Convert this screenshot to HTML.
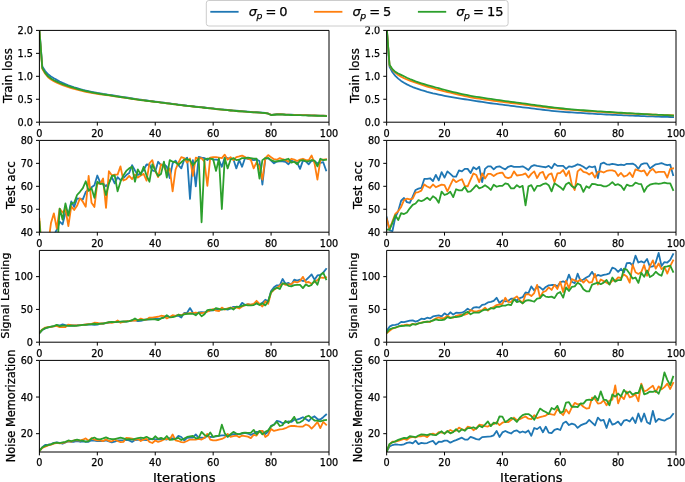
<!DOCTYPE html>
<html><head><meta charset="utf-8"><title>Figure</title>
<style>html,body{margin:0;padding:0;background:#fff}svg{display:block}</style></head>
<body>
<svg width="685" height="482" viewBox="0 0 685 482" font-family="'DejaVu Sans', 'Liberation Sans', sans-serif" stroke-linejoin="round">
<rect width="685" height="482" fill="#fff"/>
<clipPath id="c1"><rect x="39.4" y="30.4" width="289.6" height="91.80"/></clipPath>
<g clip-path="url(#c1)" fill="none" stroke-width="1.8" stroke-linejoin="round" stroke-linecap="square">
<polyline points="39.40,29.39 42.30,66.39 45.19,70.98 48.09,74.33 50.98,76.48 53.88,78.23 56.78,79.88 59.67,81.44 62.57,82.82 65.46,84.10 68.36,85.30 71.26,86.35 74.15,87.36 77.05,88.23 79.94,89.06 82.84,89.84 85.74,90.53 88.63,91.22 91.53,91.81 94.42,92.41 97.32,92.96 100.22,93.42 103.11,93.93 106.01,94.34 108.90,94.80 111.80,95.26 114.70,95.72 117.59,96.17 120.49,96.63 123.38,97.09 126.28,97.51 129.18,97.96 132.07,98.42 134.97,98.88 137.86,99.30 140.76,99.71 143.66,100.12 146.55,100.49 149.45,100.86 152.34,101.22 155.24,101.59 158.14,101.96 161.03,102.33 163.93,102.69 166.82,103.06 169.72,103.43 172.62,103.79 175.51,104.16 178.41,104.57 181.30,104.94 184.20,105.26 187.10,105.63 189.99,105.91 192.89,106.23 195.78,106.55 198.68,106.87 201.58,107.19 204.47,107.51 207.37,107.83 210.26,108.15 213.16,108.48 216.06,108.80 218.95,109.12 221.85,109.39 224.74,109.72 227.64,109.99 230.54,110.27 233.43,110.54 236.33,110.77 239.22,111.00 242.12,111.23 245.02,111.46 247.91,111.69 250.81,111.87 253.70,112.06 256.60,112.24 259.50,112.42 262.39,112.56 265.29,112.79 268.18,113.48 271.08,114.86 273.98,114.58 276.87,114.26 279.77,114.12 282.66,114.31 285.56,114.58 288.46,114.67 291.35,114.76 294.25,114.86 297.14,114.95 300.04,115.04 302.94,115.13 305.83,115.22 308.73,115.31 311.62,115.41 314.52,115.50 317.42,115.59 320.31,115.68 323.21,115.77 326.10,115.87" stroke="#1f77b4"/>
<polyline points="39.40,30.86 42.30,68.82 45.19,73.68 48.09,77.17 50.98,79.42 53.88,81.17 56.78,82.68 59.67,83.97 62.57,85.16 65.46,86.17 68.36,87.18 71.26,88.05 74.15,88.92 77.05,89.70 79.94,90.44 82.84,91.13 85.74,91.77 88.63,92.32 91.53,92.87 94.42,93.37 97.32,93.88 100.22,94.29 103.11,94.71 106.01,95.07 108.90,95.44 111.80,95.85 114.70,96.27 117.59,96.68 120.49,97.09 123.38,97.55 126.28,97.96 129.18,98.38 132.07,98.79 134.97,99.25 137.86,99.66 140.76,100.08 143.66,100.44 146.55,100.81 149.45,101.18 152.34,101.50 155.24,101.87 158.14,102.23 161.03,102.60 163.93,102.97 166.82,103.34 169.72,103.70 172.62,104.07 175.51,104.44 178.41,104.80 181.30,105.17 184.20,105.54 187.10,105.86 189.99,106.18 192.89,106.50 195.78,106.78 198.68,107.10 201.58,107.42 204.47,107.74 207.37,108.06 210.26,108.38 213.16,108.71 216.06,109.03 218.95,109.35 221.85,109.62 224.74,109.94 227.64,110.22 230.54,110.50 233.43,110.72 236.33,111.00 239.22,111.23 242.12,111.46 245.02,111.69 247.91,111.87 250.81,112.10 253.70,112.29 256.60,112.47 259.50,112.61 262.39,112.79 265.29,113.02 268.18,113.52 271.08,114.86 273.98,114.58 276.87,114.31 279.77,114.12 282.66,114.31 285.56,114.58 288.46,114.72 291.35,114.81 294.25,114.86 297.14,114.95 300.04,115.04 302.94,115.13 305.83,115.22 308.73,115.31 311.62,115.41 314.52,115.50 317.42,115.59 320.31,115.68 323.21,115.77 326.10,115.87" stroke="#ff7f0e"/>
<polyline points="39.40,30.86 42.30,68.04 45.19,72.86 48.09,76.30 50.98,78.50 53.88,80.20 56.78,81.67 59.67,83.00 62.57,84.15 65.46,85.20 68.36,86.17 71.26,87.09 74.15,87.96 77.05,88.83 79.94,89.61 82.84,90.35 85.74,91.03 88.63,91.68 91.53,92.27 94.42,92.82 97.32,93.37 100.22,93.88 103.11,94.34 106.01,94.75 108.90,95.16 111.80,95.62 114.70,96.08 117.59,96.54 120.49,97.00 123.38,97.41 126.28,97.87 129.18,98.33 132.07,98.75 134.97,99.20 137.86,99.62 140.76,100.03 143.66,100.40 146.55,100.76 149.45,101.13 152.34,101.50 155.24,101.87 158.14,102.23 161.03,102.60 163.93,102.97 166.82,103.34 169.72,103.70 172.62,104.07 175.51,104.44 178.41,104.80 181.30,105.17 184.20,105.54 187.10,105.86 189.99,106.18 192.89,106.50 195.78,106.78 198.68,107.10 201.58,107.42 204.47,107.74 207.37,108.06 210.26,108.38 213.16,108.71 216.06,109.03 218.95,109.35 221.85,109.62 224.74,109.94 227.64,110.22 230.54,110.50 233.43,110.72 236.33,111.00 239.22,111.23 242.12,111.46 245.02,111.69 247.91,111.87 250.81,112.10 253.70,112.29 256.60,112.47 259.50,112.61 262.39,112.79 265.29,113.02 268.18,113.71 271.08,115.04 273.98,114.76 276.87,114.49 279.77,114.31 282.66,114.49 285.56,114.76 288.46,114.90 291.35,114.99 294.25,115.04 297.14,115.13 300.04,115.22 302.94,115.31 305.83,115.41 308.73,115.50 311.62,115.59 314.52,115.68 317.42,115.77 320.31,115.87 323.21,115.96 326.10,116.05" stroke="#2ca02c"/>
</g>
<line x1="39.40" x2="39.40" y1="122.2" y2="125.60000000000001" stroke="#000" stroke-width="1"/>
<text x="39.40" y="136.60" font-size="9.7" text-anchor="middle" fill="#000" stroke="#000" stroke-width="0.25">0</text>
<line x1="97.32" x2="97.32" y1="122.2" y2="125.60000000000001" stroke="#000" stroke-width="1"/>
<text x="97.32" y="136.60" font-size="9.7" text-anchor="middle" fill="#000" stroke="#000" stroke-width="0.25">20</text>
<line x1="155.24" x2="155.24" y1="122.2" y2="125.60000000000001" stroke="#000" stroke-width="1"/>
<text x="155.24" y="136.60" font-size="9.7" text-anchor="middle" fill="#000" stroke="#000" stroke-width="0.25">40</text>
<line x1="213.16" x2="213.16" y1="122.2" y2="125.60000000000001" stroke="#000" stroke-width="1"/>
<text x="213.16" y="136.60" font-size="9.7" text-anchor="middle" fill="#000" stroke="#000" stroke-width="0.25">60</text>
<line x1="271.08" x2="271.08" y1="122.2" y2="125.60000000000001" stroke="#000" stroke-width="1"/>
<text x="271.08" y="136.60" font-size="9.7" text-anchor="middle" fill="#000" stroke="#000" stroke-width="0.25">80</text>
<line x1="329.00" x2="329.00" y1="122.2" y2="125.60000000000001" stroke="#000" stroke-width="1"/>
<text x="329.00" y="136.60" font-size="9.7" text-anchor="middle" fill="#000" stroke="#000" stroke-width="0.25">100</text>
<line x1="36.0" x2="39.4" y1="122.20" y2="122.20" stroke="#000" stroke-width="1"/>
<text x="33.00" y="125.80" font-size="9.7" text-anchor="end" fill="#000" stroke="#000" stroke-width="0.25">0.0</text>
<line x1="36.0" x2="39.4" y1="99.25" y2="99.25" stroke="#000" stroke-width="1"/>
<text x="33.00" y="102.85" font-size="9.7" text-anchor="end" fill="#000" stroke="#000" stroke-width="0.25">0.5</text>
<line x1="36.0" x2="39.4" y1="76.30" y2="76.30" stroke="#000" stroke-width="1"/>
<text x="33.00" y="79.90" font-size="9.7" text-anchor="end" fill="#000" stroke="#000" stroke-width="0.25">1.0</text>
<line x1="36.0" x2="39.4" y1="53.35" y2="53.35" stroke="#000" stroke-width="1"/>
<text x="33.00" y="56.95" font-size="9.7" text-anchor="end" fill="#000" stroke="#000" stroke-width="0.25">1.5</text>
<line x1="36.0" x2="39.4" y1="30.40" y2="30.40" stroke="#000" stroke-width="1"/>
<text x="33.00" y="34.00" font-size="9.7" text-anchor="end" fill="#000" stroke="#000" stroke-width="0.25">2.0</text>
<rect x="39.4" y="30.4" width="289.6" height="91.80" fill="none" stroke="#000" stroke-width="1"/>
<text transform="translate(12.10,75.60) rotate(-90)" font-size="11.8" text-anchor="middle" fill="#000" stroke="#000" stroke-width="0.25">Train loss</text>
<clipPath id="c2"><rect x="39.4" y="140.4" width="289.6" height="91.80"/></clipPath>
<g clip-path="url(#c2)" fill="none" stroke-width="1.8" stroke-linejoin="round" stroke-linecap="square">
<polyline points="39.40,255.15 42.30,250.56 45.19,245.97 48.09,241.38 50.98,239.08 53.88,235.18 56.78,229.68 59.67,221.64 62.57,224.40 65.46,212.69 68.36,214.99 71.26,201.45 74.15,206.95 77.05,198.46 79.94,198.92 82.84,199.38 85.74,192.04 88.63,189.51 91.53,187.22 94.42,185.15 97.32,175.51 100.22,182.63 103.11,183.32 106.01,186.30 108.90,182.63 111.80,177.12 114.70,183.32 117.59,177.12 120.49,180.10 123.38,178.04 126.28,175.05 129.18,172.99 132.07,165.19 134.97,170.46 137.86,175.05 140.76,172.99 143.66,170.01 146.55,164.50 149.45,164.73 152.34,170.46 155.24,171.38 158.14,161.74 161.03,165.19 163.93,164.27 166.82,166.79 169.72,178.04 172.62,163.35 175.51,160.60 178.41,165.19 181.30,168.40 184.20,159.68 187.10,157.61 189.99,198.92 192.89,160.14 195.78,186.30 198.68,156.92 201.58,157.61 204.47,158.07 207.37,160.14 210.26,158.07 213.16,159.68 216.06,159.68 218.95,160.14 221.85,166.79 224.74,157.61 227.64,158.07 230.54,158.76 233.43,159.22 236.33,168.40 239.22,160.14 242.12,166.79 245.02,158.07 247.91,158.76 250.81,159.68 253.70,160.14 256.60,159.68 259.50,161.06 262.39,184.69 265.29,158.99 268.18,158.07 271.08,160.60 273.98,163.35 276.87,161.51 279.77,161.28 282.66,161.28 285.56,161.74 288.46,164.27 291.35,160.60 294.25,161.74 297.14,162.66 300.04,168.86 302.94,160.60 305.83,161.28 308.73,164.27 311.62,160.60 314.52,161.28 317.42,163.35 320.31,162.89 323.21,162.20 326.10,170.46" stroke="#1f77b4"/>
<polyline points="39.40,218.66 42.30,255.15 45.19,250.56 48.09,244.82 50.98,223.02 53.88,213.38 56.78,228.53 59.67,208.56 62.57,212.46 65.46,209.02 68.36,226.00 71.26,206.50 74.15,209.94 77.05,205.81 79.94,198.23 82.84,201.68 85.74,206.73 88.63,175.97 91.53,202.82 94.42,206.95 97.32,182.86 100.22,184.00 103.11,178.50 106.01,207.87 108.90,171.15 111.80,175.28 114.70,174.60 117.59,174.60 120.49,166.33 123.38,180.56 126.28,179.19 129.18,175.97 132.07,179.19 134.97,174.60 137.86,177.58 140.76,175.51 143.66,173.91 146.55,180.56 149.45,163.35 152.34,160.14 155.24,170.92 158.14,177.12 161.03,164.27 163.93,166.79 166.82,172.07 169.72,168.40 172.62,191.35 175.51,169.78 178.41,162.66 181.30,157.15 184.20,158.07 187.10,162.66 189.99,158.53 192.89,175.97 195.78,157.61 198.68,158.53 201.58,158.07 204.47,161.74 207.37,185.84 210.26,157.61 213.16,157.15 216.06,157.15 218.95,157.61 221.85,158.07 224.74,154.63 227.64,159.68 230.54,157.15 233.43,160.14 236.33,157.15 239.22,156.47 242.12,155.55 245.02,157.15 247.91,158.76 250.81,159.68 253.70,168.40 256.60,162.20 259.50,166.79 262.39,179.64 265.29,158.07 268.18,155.09 271.08,157.15 273.98,159.22 276.87,159.68 279.77,158.07 282.66,159.22 285.56,160.14 288.46,161.74 291.35,158.76 294.25,159.68 297.14,161.06 300.04,159.68 302.94,158.76 305.83,160.14 308.73,160.14 311.62,155.55 314.52,163.35 317.42,179.64 320.31,160.14 323.21,159.68 326.10,159.22" stroke="#ff7f0e"/>
<polyline points="39.40,221.64 42.30,259.74 45.19,262.03 48.09,262.03 50.98,259.74 53.88,259.74 56.78,256.76 59.67,208.56 62.57,219.58 65.46,203.51 68.36,215.68 71.26,203.05 74.15,202.82 77.05,195.02 79.94,191.81 82.84,188.14 85.74,181.25 88.63,190.89 91.53,188.14 94.42,197.77 97.32,181.71 100.22,183.78 103.11,183.78 106.01,195.02 108.90,183.78 111.80,175.97 114.70,175.51 117.59,191.35 120.49,181.71 123.38,175.51 126.28,170.92 129.18,168.40 132.07,166.79 134.97,181.71 137.86,169.32 140.76,174.60 143.66,166.79 146.55,175.51 149.45,181.71 152.34,164.27 155.24,170.46 158.14,175.97 161.03,173.91 163.93,161.74 166.82,177.58 169.72,160.14 172.62,161.74 175.51,162.20 178.41,164.73 181.30,162.20 184.20,159.68 187.10,159.22 189.99,160.14 192.89,165.19 195.78,161.74 198.68,158.53 201.58,222.33 204.47,159.68 207.37,158.53 210.26,158.53 213.16,159.22 216.06,170.92 218.95,158.53 221.85,209.02 224.74,158.07 227.64,168.40 230.54,159.68 233.43,158.07 236.33,160.14 239.22,159.68 242.12,158.07 245.02,158.07 247.91,157.61 250.81,158.07 253.70,158.53 256.60,158.53 259.50,178.50 262.39,160.14 265.29,158.07 268.18,158.07 271.08,160.14 273.98,161.28 276.87,161.28 279.77,160.60 282.66,160.14 285.56,159.68 288.46,158.76 291.35,162.66 294.25,161.74 297.14,164.27 300.04,160.60 302.94,160.14 305.83,161.28 308.73,161.28 311.62,160.14 314.52,160.60 317.42,166.33 320.31,158.76 323.21,160.14 326.10,159.68" stroke="#2ca02c"/>
</g>
<line x1="39.40" x2="39.40" y1="232.2" y2="235.6" stroke="#000" stroke-width="1"/>
<text x="39.40" y="246.60" font-size="9.7" text-anchor="middle" fill="#000" stroke="#000" stroke-width="0.25">0</text>
<line x1="97.32" x2="97.32" y1="232.2" y2="235.6" stroke="#000" stroke-width="1"/>
<text x="97.32" y="246.60" font-size="9.7" text-anchor="middle" fill="#000" stroke="#000" stroke-width="0.25">20</text>
<line x1="155.24" x2="155.24" y1="232.2" y2="235.6" stroke="#000" stroke-width="1"/>
<text x="155.24" y="246.60" font-size="9.7" text-anchor="middle" fill="#000" stroke="#000" stroke-width="0.25">40</text>
<line x1="213.16" x2="213.16" y1="232.2" y2="235.6" stroke="#000" stroke-width="1"/>
<text x="213.16" y="246.60" font-size="9.7" text-anchor="middle" fill="#000" stroke="#000" stroke-width="0.25">60</text>
<line x1="271.08" x2="271.08" y1="232.2" y2="235.6" stroke="#000" stroke-width="1"/>
<text x="271.08" y="246.60" font-size="9.7" text-anchor="middle" fill="#000" stroke="#000" stroke-width="0.25">80</text>
<line x1="329.00" x2="329.00" y1="232.2" y2="235.6" stroke="#000" stroke-width="1"/>
<text x="329.00" y="246.60" font-size="9.7" text-anchor="middle" fill="#000" stroke="#000" stroke-width="0.25">100</text>
<line x1="36.0" x2="39.4" y1="232.20" y2="232.20" stroke="#000" stroke-width="1"/>
<text x="33.00" y="235.80" font-size="9.7" text-anchor="end" fill="#000" stroke="#000" stroke-width="0.25">40</text>
<line x1="36.0" x2="39.4" y1="209.25" y2="209.25" stroke="#000" stroke-width="1"/>
<text x="33.00" y="212.85" font-size="9.7" text-anchor="end" fill="#000" stroke="#000" stroke-width="0.25">50</text>
<line x1="36.0" x2="39.4" y1="186.30" y2="186.30" stroke="#000" stroke-width="1"/>
<text x="33.00" y="189.90" font-size="9.7" text-anchor="end" fill="#000" stroke="#000" stroke-width="0.25">60</text>
<line x1="36.0" x2="39.4" y1="163.35" y2="163.35" stroke="#000" stroke-width="1"/>
<text x="33.00" y="166.95" font-size="9.7" text-anchor="end" fill="#000" stroke="#000" stroke-width="0.25">70</text>
<line x1="36.0" x2="39.4" y1="140.40" y2="140.40" stroke="#000" stroke-width="1"/>
<text x="33.00" y="144.00" font-size="9.7" text-anchor="end" fill="#000" stroke="#000" stroke-width="0.25">80</text>
<rect x="39.4" y="140.4" width="289.6" height="91.80" fill="none" stroke="#000" stroke-width="1"/>
<text transform="translate(15.10,185.10) rotate(-90)" font-size="11.9" text-anchor="middle" fill="#000" stroke="#000" stroke-width="0.25">Test acc</text>
<clipPath id="c3"><rect x="39.4" y="250.4" width="289.6" height="91.80"/></clipPath>
<g clip-path="url(#c3)" fill="none" stroke-width="1.8" stroke-linejoin="round" stroke-linecap="square">
<polyline points="39.40,333.35 42.30,330.07 45.19,328.43 48.09,327.45 50.98,326.79 53.88,326.13 56.78,325.48 59.67,325.48 62.57,324.36 65.46,325.15 68.36,325.48 71.26,325.48 74.15,325.48 77.05,325.48 79.94,325.15 82.84,324.89 85.74,324.63 88.63,324.50 91.53,324.50 94.42,324.76 97.32,324.50 100.22,323.84 103.11,323.51 106.01,323.18 108.90,322.53 111.80,322.20 114.70,322.00 117.59,321.87 120.49,321.87 123.38,321.68 126.28,321.55 129.18,321.22 132.07,320.56 134.97,320.23 137.86,321.22 140.76,320.89 143.66,320.04 146.55,319.58 149.45,319.25 152.34,319.12 155.24,318.92 158.14,318.86 161.03,318.27 163.93,317.28 166.82,316.10 169.72,316.95 172.62,316.63 175.51,315.97 178.41,315.77 181.30,317.61 184.20,312.89 187.10,312.69 189.99,308.10 192.89,312.69 195.78,313.22 198.68,312.50 201.58,312.17 204.47,312.50 207.37,311.18 210.26,310.66 213.16,310.46 216.06,309.61 218.95,310.14 221.85,309.09 224.74,308.82 227.64,309.61 230.54,308.63 233.43,306.79 236.33,306.92 239.22,306.92 242.12,302.86 245.02,304.89 247.91,304.37 250.81,304.89 253.70,304.37 256.60,302.86 259.50,304.37 262.39,302.86 265.29,299.78 268.18,301.28 271.08,291.05 273.98,287.32 276.87,285.35 279.77,285.35 282.66,278.99 285.56,283.84 288.46,282.92 291.35,284.76 294.25,279.71 297.14,280.56 300.04,279.64 302.94,281.02 305.83,280.10 308.73,277.28 311.62,274.46 314.52,279.64 317.42,275.45 320.31,274.99 323.21,272.63 326.10,268.89" stroke="#1f77b4"/>
<polyline points="39.40,333.02 42.30,329.41 45.19,327.64 48.09,327.12 50.98,326.79 53.88,326.46 56.78,325.81 59.67,327.12 62.57,327.12 65.46,326.99 68.36,324.56 71.26,325.15 74.15,325.48 77.05,325.28 79.94,325.15 82.84,324.82 85.74,324.50 88.63,324.17 91.53,323.84 94.42,322.73 97.32,322.86 100.22,323.51 103.11,323.51 106.01,322.86 108.90,322.40 111.80,322.92 114.70,322.20 117.59,320.50 120.49,322.73 123.38,321.87 126.28,321.22 129.18,321.22 132.07,320.56 134.97,320.69 137.86,320.23 140.76,318.66 143.66,319.64 146.55,319.64 149.45,317.61 152.34,317.61 155.24,317.09 158.14,316.76 161.03,315.77 163.93,316.04 166.82,318.46 169.72,316.95 172.62,315.25 175.51,315.77 178.41,314.73 181.30,315.25 184.20,313.74 187.10,313.55 189.99,313.22 192.89,313.22 195.78,312.50 198.68,313.22 201.58,313.22 204.47,312.69 207.37,311.71 210.26,310.14 213.16,309.09 216.06,310.66 218.95,311.18 221.85,307.58 224.74,309.61 227.64,308.30 230.54,307.51 233.43,308.30 236.33,307.45 239.22,308.50 242.12,306.46 245.02,305.41 247.91,304.10 250.81,304.69 253.70,303.84 256.60,300.82 259.50,303.84 262.39,306.46 265.29,301.28 268.18,303.84 271.08,292.56 273.98,289.74 276.87,288.04 279.77,285.61 282.66,283.38 285.56,284.82 288.46,284.37 291.35,284.17 294.25,281.68 297.14,282.46 300.04,281.02 302.94,276.83 305.83,282.46 308.73,282.01 311.62,283.84 314.52,282.01 317.42,280.10 320.31,277.28 323.21,277.81 326.10,277.28" stroke="#ff7f0e"/>
<polyline points="39.40,332.95 42.30,329.68 45.19,328.17 48.09,327.32 50.98,326.59 53.88,326.13 56.78,324.89 59.67,326.13 62.57,325.61 65.46,325.61 68.36,325.81 71.26,325.61 74.15,325.81 77.05,325.61 79.94,325.28 82.84,324.89 85.74,324.89 88.63,324.36 91.53,324.04 94.42,323.77 97.32,324.04 100.22,323.71 103.11,323.64 106.01,322.86 108.90,322.20 111.80,322.00 114.70,322.20 117.59,321.94 120.49,321.68 123.38,321.48 126.28,321.68 129.18,321.02 132.07,320.17 134.97,318.40 137.86,320.17 140.76,319.84 143.66,319.84 146.55,319.45 149.45,319.32 152.34,319.32 155.24,319.32 158.14,320.17 161.03,318.40 163.93,317.61 166.82,315.12 169.72,317.35 172.62,317.02 175.51,316.30 178.41,314.73 181.30,315.58 184.20,314.27 187.10,313.74 189.99,313.55 192.89,313.74 195.78,315.25 198.68,312.69 201.58,316.30 204.47,314.27 207.37,310.14 210.26,309.61 213.16,310.14 216.06,308.10 218.95,308.82 221.85,309.61 224.74,309.09 227.64,309.09 230.54,307.77 233.43,309.55 236.33,306.73 239.22,306.92 242.12,305.94 245.02,304.89 247.91,305.41 250.81,305.41 253.70,305.09 256.60,303.38 259.50,305.09 262.39,303.38 265.29,305.41 268.18,301.28 271.08,292.10 273.98,289.22 276.87,287.58 279.77,289.02 282.66,283.38 285.56,283.64 288.46,285.81 291.35,286.33 294.25,285.15 297.14,284.82 300.04,284.82 302.94,288.10 305.83,284.37 308.73,286.20 311.62,284.82 314.52,280.56 317.42,284.82 320.31,275.45 323.21,272.63 326.10,279.19" stroke="#2ca02c"/>
</g>
<line x1="39.40" x2="39.40" y1="342.2" y2="345.59999999999997" stroke="#000" stroke-width="1"/>
<text x="39.40" y="356.60" font-size="9.7" text-anchor="middle" fill="#000" stroke="#000" stroke-width="0.25">0</text>
<line x1="97.32" x2="97.32" y1="342.2" y2="345.59999999999997" stroke="#000" stroke-width="1"/>
<text x="97.32" y="356.60" font-size="9.7" text-anchor="middle" fill="#000" stroke="#000" stroke-width="0.25">20</text>
<line x1="155.24" x2="155.24" y1="342.2" y2="345.59999999999997" stroke="#000" stroke-width="1"/>
<text x="155.24" y="356.60" font-size="9.7" text-anchor="middle" fill="#000" stroke="#000" stroke-width="0.25">40</text>
<line x1="213.16" x2="213.16" y1="342.2" y2="345.59999999999997" stroke="#000" stroke-width="1"/>
<text x="213.16" y="356.60" font-size="9.7" text-anchor="middle" fill="#000" stroke="#000" stroke-width="0.25">60</text>
<line x1="271.08" x2="271.08" y1="342.2" y2="345.59999999999997" stroke="#000" stroke-width="1"/>
<text x="271.08" y="356.60" font-size="9.7" text-anchor="middle" fill="#000" stroke="#000" stroke-width="0.25">80</text>
<line x1="329.00" x2="329.00" y1="342.2" y2="345.59999999999997" stroke="#000" stroke-width="1"/>
<text x="329.00" y="356.60" font-size="9.7" text-anchor="middle" fill="#000" stroke="#000" stroke-width="0.25">100</text>
<line x1="36.0" x2="39.4" y1="342.20" y2="342.20" stroke="#000" stroke-width="1"/>
<text x="33.00" y="345.80" font-size="9.7" text-anchor="end" fill="#000" stroke="#000" stroke-width="0.25">0</text>
<line x1="36.0" x2="39.4" y1="309.41" y2="309.41" stroke="#000" stroke-width="1"/>
<text x="33.00" y="313.01" font-size="9.7" text-anchor="end" fill="#000" stroke="#000" stroke-width="0.25">50</text>
<line x1="36.0" x2="39.4" y1="276.63" y2="276.63" stroke="#000" stroke-width="1"/>
<text x="33.00" y="280.23" font-size="9.7" text-anchor="end" fill="#000" stroke="#000" stroke-width="0.25">100</text>
<rect x="39.4" y="250.4" width="289.6" height="91.80" fill="none" stroke="#000" stroke-width="1"/>
<text transform="translate(9.40,295.60) rotate(-90)" font-size="11.15" text-anchor="middle" fill="#000" stroke="#000" stroke-width="0.25">Signal Learning</text>
<clipPath id="c4"><rect x="39.4" y="360.4" width="289.6" height="91.60"/></clipPath>
<g clip-path="url(#c4)" fill="none" stroke-width="1.8" stroke-linejoin="round" stroke-linecap="square">
<polyline points="39.40,451.08 42.30,447.24 45.19,444.86 48.09,444.67 50.98,444.12 53.88,442.84 56.78,442.47 59.67,442.84 62.57,443.76 65.46,442.47 68.36,441.37 71.26,441.92 74.15,441.74 77.05,441.01 79.94,441.74 82.84,441.37 85.74,441.74 88.63,441.74 91.53,440.28 94.42,440.64 97.32,441.19 100.22,441.01 103.11,441.01 106.01,440.46 108.90,441.37 111.80,442.47 114.70,441.74 117.59,440.46 120.49,440.46 123.38,440.46 126.28,439.91 129.18,440.46 132.07,441.92 134.97,440.09 137.86,439.91 140.76,439.36 143.66,439.91 146.55,440.09 149.45,439.36 152.34,438.81 155.24,439.18 158.14,439.36 161.03,439.36 163.93,438.81 166.82,439.54 169.72,438.08 172.62,438.44 175.51,438.99 178.41,435.88 181.30,436.98 184.20,440.46 187.10,437.89 189.99,437.53 192.89,437.53 195.78,434.41 198.68,437.89 201.58,437.53 204.47,437.89 207.37,435.88 210.26,436.98 213.16,436.79 216.06,436.43 218.95,435.88 221.85,435.33 224.74,435.33 227.64,436.61 230.54,435.15 233.43,434.05 236.33,434.05 239.22,434.05 242.12,433.50 245.02,432.95 247.91,433.50 250.81,434.96 253.70,433.50 256.60,431.85 259.50,431.85 262.39,430.93 265.29,434.05 268.18,431.85 271.08,425.80 273.98,424.70 276.87,420.86 279.77,421.59 282.66,423.24 285.56,422.50 288.46,421.41 291.35,421.96 294.25,419.76 297.14,419.57 300.04,418.66 302.94,417.19 305.83,419.02 308.73,421.04 311.62,417.74 314.52,416.28 317.42,419.02 320.31,419.57 323.21,417.19 326.10,414.63" stroke="#1f77b4"/>
<polyline points="39.40,451.08 42.30,447.79 45.19,446.69 48.09,445.40 50.98,444.67 53.88,443.57 56.78,442.84 59.67,443.39 62.57,442.84 65.46,442.29 68.36,441.01 71.26,441.74 74.15,440.28 77.05,440.09 79.94,440.64 82.84,439.73 85.74,438.44 88.63,440.64 91.53,438.08 94.42,439.73 97.32,440.28 100.22,440.46 103.11,441.01 106.01,439.36 108.90,441.01 111.80,441.37 114.70,439.36 117.59,441.01 120.49,442.11 123.38,441.92 126.28,437.89 129.18,438.08 132.07,438.63 134.97,439.91 137.86,438.81 140.76,441.01 143.66,439.36 146.55,438.81 149.45,441.92 152.34,443.02 155.24,440.46 158.14,441.92 161.03,441.01 163.93,439.36 166.82,438.99 169.72,439.54 172.62,434.41 175.51,440.46 178.41,441.01 181.30,442.11 184.20,442.29 187.10,441.01 189.99,439.54 192.89,439.54 195.78,439.54 198.68,438.99 201.58,439.54 204.47,437.89 207.37,433.86 210.26,439.54 213.16,440.46 216.06,440.46 218.95,439.54 221.85,438.99 224.74,437.53 227.64,433.86 230.54,436.79 233.43,436.06 236.33,435.51 239.22,437.34 242.12,435.51 245.02,436.06 247.91,436.61 250.81,438.08 253.70,434.96 256.60,435.51 259.50,430.93 262.39,430.93 265.29,436.98 268.18,434.96 271.08,428.92 273.98,430.93 276.87,430.20 279.77,429.28 282.66,429.10 285.56,428.18 288.46,426.72 291.35,425.80 294.25,425.99 297.14,426.35 300.04,426.54 302.94,426.54 305.83,424.52 308.73,425.62 311.62,428.55 314.52,425.62 317.42,421.96 320.31,428.18 323.21,421.96 326.10,424.70" stroke="#ff7f0e"/>
<polyline points="39.40,450.90 42.30,447.42 45.19,445.77 48.09,445.04 50.98,444.31 53.88,443.21 56.78,442.66 59.67,443.21 62.57,442.29 65.46,441.92 68.36,440.46 71.26,441.01 74.15,440.46 77.05,439.73 79.94,440.46 82.84,440.64 85.74,441.74 88.63,441.19 91.53,438.63 94.42,437.53 97.32,439.18 100.22,439.36 103.11,438.44 106.01,437.34 108.90,438.63 111.80,439.18 114.70,439.18 117.59,438.44 120.49,437.71 123.38,438.44 126.28,439.36 129.18,439.18 132.07,439.73 134.97,438.81 137.86,438.08 140.76,437.71 143.66,438.08 146.55,436.79 149.45,438.44 152.34,439.36 155.24,436.24 158.14,438.81 161.03,437.89 163.93,439.18 166.82,436.06 169.72,439.73 172.62,439.54 175.51,438.99 178.41,437.89 181.30,440.09 184.20,438.44 187.10,436.98 189.99,436.43 192.89,435.88 195.78,438.44 198.68,437.89 201.58,431.85 204.47,434.96 207.37,436.43 210.26,432.40 213.16,436.98 216.06,435.88 218.95,435.88 221.85,424.70 224.74,433.31 227.64,436.79 230.54,434.23 233.43,431.85 236.33,433.50 239.22,434.41 242.12,432.95 245.02,432.76 247.91,432.95 250.81,432.95 253.70,429.83 256.60,434.41 259.50,430.93 262.39,434.41 265.29,431.85 268.18,430.38 271.08,426.35 273.98,424.70 276.87,421.77 279.77,425.99 282.66,425.07 285.56,420.86 288.46,423.05 291.35,420.67 294.25,416.83 297.14,422.87 300.04,422.32 302.94,420.49 305.83,416.83 308.73,415.73 311.62,418.11 314.52,420.49 317.42,420.67 320.31,421.41 323.21,420.49 326.10,419.94" stroke="#2ca02c"/>
</g>
<line x1="39.40" x2="39.40" y1="452.0" y2="455.4" stroke="#000" stroke-width="1"/>
<text x="39.40" y="466.40" font-size="9.7" text-anchor="middle" fill="#000" stroke="#000" stroke-width="0.25">0</text>
<line x1="97.32" x2="97.32" y1="452.0" y2="455.4" stroke="#000" stroke-width="1"/>
<text x="97.32" y="466.40" font-size="9.7" text-anchor="middle" fill="#000" stroke="#000" stroke-width="0.25">20</text>
<line x1="155.24" x2="155.24" y1="452.0" y2="455.4" stroke="#000" stroke-width="1"/>
<text x="155.24" y="466.40" font-size="9.7" text-anchor="middle" fill="#000" stroke="#000" stroke-width="0.25">40</text>
<line x1="213.16" x2="213.16" y1="452.0" y2="455.4" stroke="#000" stroke-width="1"/>
<text x="213.16" y="466.40" font-size="9.7" text-anchor="middle" fill="#000" stroke="#000" stroke-width="0.25">60</text>
<line x1="271.08" x2="271.08" y1="452.0" y2="455.4" stroke="#000" stroke-width="1"/>
<text x="271.08" y="466.40" font-size="9.7" text-anchor="middle" fill="#000" stroke="#000" stroke-width="0.25">80</text>
<line x1="329.00" x2="329.00" y1="452.0" y2="455.4" stroke="#000" stroke-width="1"/>
<text x="329.00" y="466.40" font-size="9.7" text-anchor="middle" fill="#000" stroke="#000" stroke-width="0.25">100</text>
<line x1="36.0" x2="39.4" y1="433.68" y2="433.68" stroke="#000" stroke-width="1"/>
<text x="33.00" y="437.28" font-size="9.7" text-anchor="end" fill="#000" stroke="#000" stroke-width="0.25">20</text>
<line x1="36.0" x2="39.4" y1="397.04" y2="397.04" stroke="#000" stroke-width="1"/>
<text x="33.00" y="400.64" font-size="9.7" text-anchor="end" fill="#000" stroke="#000" stroke-width="0.25">40</text>
<line x1="36.0" x2="39.4" y1="360.40" y2="360.40" stroke="#000" stroke-width="1"/>
<text x="33.00" y="364.00" font-size="9.7" text-anchor="end" fill="#000" stroke="#000" stroke-width="0.25">60</text>
<rect x="39.4" y="360.4" width="289.6" height="91.60" fill="none" stroke="#000" stroke-width="1"/>
<text transform="translate(14.50,405.90) rotate(-90)" font-size="11.4" text-anchor="middle" fill="#000" stroke="#000" stroke-width="0.25">Noise Memorization</text>
<text x="184.20" y="481.8" font-size="13.15" text-anchor="middle" fill="#000" stroke="#000" stroke-width="0.25">Iterations</text>
<clipPath id="c5"><rect x="386.65" y="30.4" width="289.35" height="91.80"/></clipPath>
<g clip-path="url(#c5)" fill="none" stroke-width="1.8" stroke-linejoin="round" stroke-linecap="square">
<polyline points="386.65,26.73 389.54,66.84 392.44,72.21 395.33,75.84 398.22,78.64 401.12,80.89 404.01,82.77 406.90,84.38 409.80,85.80 412.69,87.04 415.58,88.19 418.48,89.20 421.37,90.16 424.27,90.99 427.16,91.81 430.05,92.55 432.95,93.28 435.84,93.93 438.73,94.57 441.63,95.16 444.52,95.76 447.41,96.31 450.31,96.86 453.20,97.37 456.09,97.87 458.99,98.33 461.88,98.79 464.77,99.25 467.67,99.71 470.56,100.12 473.45,100.58 476.35,101.04 479.24,101.50 482.14,101.96 485.03,102.42 487.92,102.83 490.82,103.24 493.71,103.61 496.60,103.98 499.50,104.34 502.39,104.71 505.28,105.08 508.18,105.45 511.07,105.81 513.96,106.18 516.86,106.55 519.75,106.92 522.64,107.28 525.54,107.65 528.43,107.97 531.33,108.34 534.22,108.71 537.11,109.07 540.01,109.39 542.90,109.76 545.79,110.13 548.69,110.45 551.58,110.77 554.47,111.05 557.37,111.32 560.26,111.60 563.15,111.83 566.05,112.06 568.94,112.24 571.83,112.42 574.73,112.61 577.62,112.79 580.51,112.97 583.41,113.16 586.30,113.34 589.19,113.52 592.09,113.71 594.98,113.89 597.88,114.03 600.77,114.21 603.66,114.35 606.56,114.49 609.45,114.63 612.34,114.76 615.24,114.90 618.13,115.04 621.02,115.18 623.92,115.31 626.81,115.45 629.70,115.59 632.60,115.68 635.49,115.82 638.38,115.96 641.28,116.05 644.17,116.19 647.07,116.28 649.96,116.37 652.85,116.46 655.75,116.60 658.64,116.69 661.53,116.78 664.43,116.88 667.32,116.92 670.21,117.01 673.11,117.11" stroke="#1f77b4"/>
<polyline points="386.65,26.73 389.54,65.28 392.44,69.87 395.33,72.63 398.22,74.92 401.12,76.80 404.01,78.27 406.90,79.51 409.80,80.61 412.69,81.67 415.58,82.68 418.48,83.69 421.37,84.65 424.27,85.62 427.16,86.54 430.05,87.41 432.95,88.23 435.84,89.06 438.73,89.84 441.63,90.57 444.52,91.31 447.41,92.04 450.31,92.73 453.20,93.42 456.09,94.11 458.99,94.80 461.88,95.49 464.77,96.08 467.67,96.68 470.56,97.28 473.45,97.78 476.35,98.29 479.24,98.70 482.14,99.16 485.03,99.57 487.92,99.98 490.82,100.40 493.71,100.81 496.60,101.18 499.50,101.59 502.39,101.96 505.28,102.33 508.18,102.69 511.07,103.01 513.96,103.38 516.86,103.70 519.75,104.07 522.64,104.44 525.54,104.80 528.43,105.17 531.33,105.54 534.22,105.91 537.11,106.27 540.01,106.64 542.90,107.01 545.79,107.37 548.69,107.74 551.58,108.06 554.47,108.38 557.37,108.71 560.26,108.98 563.15,109.26 566.05,109.49 568.94,109.72 571.83,109.94 574.73,110.17 577.62,110.40 580.51,110.63 583.41,110.82 586.30,111.00 589.19,111.23 592.09,111.41 594.98,111.60 597.88,111.78 600.77,111.96 603.66,112.15 606.56,112.33 609.45,112.52 612.34,112.70 615.24,112.88 618.13,113.02 621.02,113.16 623.92,113.30 626.81,113.48 629.70,113.57 632.60,113.71 635.49,113.85 638.38,113.98 641.28,114.12 644.17,114.21 647.07,114.35 649.96,114.49 652.85,114.58 655.75,114.72 658.64,114.81 661.53,114.95 664.43,115.04 667.32,115.13 670.21,115.27 673.11,115.36" stroke="#ff7f0e"/>
<polyline points="386.65,26.73 389.54,64.87 392.44,69.23 395.33,71.85 398.22,73.50 401.12,74.88 404.01,76.30 406.90,77.72 409.80,79.01 412.69,80.20 415.58,81.30 418.48,82.31 421.37,83.28 424.27,84.19 427.16,85.07 430.05,85.89 432.95,86.72 435.84,87.50 438.73,88.23 441.63,89.01 444.52,89.75 447.41,90.53 450.31,91.31 453.20,92.04 456.09,92.73 458.99,93.37 461.88,94.02 464.77,94.61 467.67,95.21 470.56,95.76 473.45,96.27 476.35,96.77 479.24,97.23 482.14,97.64 485.03,98.10 487.92,98.52 490.82,98.93 493.71,99.39 496.60,99.80 499.50,100.21 502.39,100.63 505.28,101.04 508.18,101.41 511.07,101.77 513.96,102.14 516.86,102.55 519.75,102.92 522.64,103.34 525.54,103.70 528.43,104.12 531.33,104.53 534.22,104.94 537.11,105.31 540.01,105.72 542.90,106.09 545.79,106.50 548.69,106.87 551.58,107.24 554.47,107.56 557.37,107.88 560.26,108.20 563.15,108.48 566.05,108.80 568.94,109.07 571.83,109.30 574.73,109.58 577.62,109.81 580.51,110.04 583.41,110.27 586.30,110.50 589.19,110.68 592.09,110.91 594.98,111.09 597.88,111.28 600.77,111.46 603.66,111.69 606.56,111.87 609.45,112.01 612.34,112.19 615.24,112.38 618.13,112.56 621.02,112.74 623.92,112.93 626.81,113.07 629.70,113.25 632.60,113.43 635.49,113.57 638.38,113.75 641.28,113.89 644.17,114.08 647.07,114.21 649.96,114.35 652.85,114.53 655.75,114.67 658.64,114.81 661.53,114.95 664.43,115.09 667.32,115.22 670.21,115.36 673.11,115.50" stroke="#2ca02c"/>
</g>
<line x1="386.65" x2="386.65" y1="122.2" y2="125.60000000000001" stroke="#000" stroke-width="1"/>
<text x="386.65" y="136.60" font-size="9.7" text-anchor="middle" fill="#000" stroke="#000" stroke-width="0.25">0</text>
<line x1="444.52" x2="444.52" y1="122.2" y2="125.60000000000001" stroke="#000" stroke-width="1"/>
<text x="444.52" y="136.60" font-size="9.7" text-anchor="middle" fill="#000" stroke="#000" stroke-width="0.25">20</text>
<line x1="502.39" x2="502.39" y1="122.2" y2="125.60000000000001" stroke="#000" stroke-width="1"/>
<text x="502.39" y="136.60" font-size="9.7" text-anchor="middle" fill="#000" stroke="#000" stroke-width="0.25">40</text>
<line x1="560.26" x2="560.26" y1="122.2" y2="125.60000000000001" stroke="#000" stroke-width="1"/>
<text x="560.26" y="136.60" font-size="9.7" text-anchor="middle" fill="#000" stroke="#000" stroke-width="0.25">60</text>
<line x1="618.13" x2="618.13" y1="122.2" y2="125.60000000000001" stroke="#000" stroke-width="1"/>
<text x="618.13" y="136.60" font-size="9.7" text-anchor="middle" fill="#000" stroke="#000" stroke-width="0.25">80</text>
<line x1="676.00" x2="676.00" y1="122.2" y2="125.60000000000001" stroke="#000" stroke-width="1"/>
<text x="676.00" y="136.60" font-size="9.7" text-anchor="middle" fill="#000" stroke="#000" stroke-width="0.25">100</text>
<line x1="383.25" x2="386.65" y1="122.20" y2="122.20" stroke="#000" stroke-width="1"/>
<text x="380.25" y="125.80" font-size="9.7" text-anchor="end" fill="#000" stroke="#000" stroke-width="0.25">0.0</text>
<line x1="383.25" x2="386.65" y1="99.25" y2="99.25" stroke="#000" stroke-width="1"/>
<text x="380.25" y="102.85" font-size="9.7" text-anchor="end" fill="#000" stroke="#000" stroke-width="0.25">0.5</text>
<line x1="383.25" x2="386.65" y1="76.30" y2="76.30" stroke="#000" stroke-width="1"/>
<text x="380.25" y="79.90" font-size="9.7" text-anchor="end" fill="#000" stroke="#000" stroke-width="0.25">1.0</text>
<line x1="383.25" x2="386.65" y1="53.35" y2="53.35" stroke="#000" stroke-width="1"/>
<text x="380.25" y="56.95" font-size="9.7" text-anchor="end" fill="#000" stroke="#000" stroke-width="0.25">1.5</text>
<line x1="383.25" x2="386.65" y1="30.40" y2="30.40" stroke="#000" stroke-width="1"/>
<text x="380.25" y="34.00" font-size="9.7" text-anchor="end" fill="#000" stroke="#000" stroke-width="0.25">2.0</text>
<rect x="386.65" y="30.4" width="289.35" height="91.80" fill="none" stroke="#000" stroke-width="1"/>
<text transform="translate(359.35,75.60) rotate(-90)" font-size="11.8" text-anchor="middle" fill="#000" stroke="#000" stroke-width="0.25">Train loss</text>
<clipPath id="c6"><rect x="386.65" y="140.4" width="289.35" height="91.80"/></clipPath>
<g clip-path="url(#c6)" fill="none" stroke-width="1.8" stroke-linejoin="round" stroke-linecap="square">
<polyline points="386.65,217.28 389.54,230.36 392.44,231.05 395.33,217.28 398.22,211.09 401.12,200.76 404.01,198.00 406.90,202.14 409.80,202.82 412.69,196.63 415.58,189.97 418.48,188.59 421.37,187.91 424.27,178.96 427.16,178.96 430.05,178.27 432.95,181.02 435.84,174.82 438.73,180.33 441.63,172.07 444.52,177.58 447.41,171.38 450.31,173.91 453.20,176.66 456.09,176.66 458.99,170.46 461.88,171.38 464.77,168.86 467.67,168.86 470.56,172.99 473.45,167.25 476.35,169.32 479.24,166.79 482.14,182.17 485.03,168.86 487.92,166.33 490.82,166.33 493.71,169.32 496.60,166.79 499.50,166.33 502.39,167.94 505.28,169.32 508.18,166.79 511.07,165.87 513.96,166.79 516.86,166.79 519.75,166.79 522.64,166.33 525.54,167.94 528.43,170.01 531.33,166.33 534.22,165.19 537.11,165.87 540.01,166.33 542.90,166.79 545.79,167.25 548.69,165.87 551.58,168.40 554.47,163.81 557.37,165.87 560.26,165.87 563.15,165.87 566.05,168.86 568.94,166.33 571.83,166.79 574.73,165.87 577.62,164.27 580.51,165.19 583.41,166.79 586.30,168.86 589.19,166.33 592.09,167.25 594.98,166.33 597.88,178.04 600.77,163.81 603.66,162.66 606.56,164.27 609.45,164.73 612.34,163.81 615.24,164.27 618.13,165.19 621.02,164.73 623.92,165.19 626.81,163.81 629.70,163.81 632.60,163.58 635.49,165.19 638.38,168.86 641.28,164.27 644.17,163.35 647.07,163.35 649.96,168.40 652.85,166.33 655.75,164.27 658.64,163.81 661.53,163.12 664.43,164.27 667.32,165.19 670.21,164.73 673.11,175.05" stroke="#1f77b4"/>
<polyline points="386.65,218.66 389.54,228.99 392.44,221.41 395.33,213.84 398.22,211.09 401.12,206.95 404.01,200.07 406.90,198.69 409.80,199.38 412.69,198.69 415.58,192.73 418.48,192.04 421.37,190.66 424.27,184.46 427.16,186.53 430.05,187.91 432.95,184.46 435.84,187.22 438.73,185.84 441.63,184.69 444.52,185.15 447.41,191.35 450.31,185.15 453.20,179.19 456.09,182.17 458.99,180.56 461.88,179.19 464.77,185.84 467.67,186.30 470.56,179.64 473.45,173.45 476.35,175.05 479.24,182.17 482.14,173.45 485.03,178.50 487.92,173.91 490.82,173.91 493.71,175.97 496.60,173.91 499.50,172.99 502.39,172.53 505.28,177.12 508.18,178.04 511.07,177.12 513.96,171.38 516.86,175.51 519.75,175.05 522.64,174.60 525.54,173.45 528.43,177.58 531.33,173.91 534.22,171.38 537.11,178.04 540.01,172.99 542.90,171.84 545.79,179.19 548.69,174.60 551.58,173.45 554.47,182.17 557.37,173.45 560.26,172.99 563.15,170.01 566.05,175.97 568.94,170.92 571.83,184.69 574.73,189.97 577.62,171.38 580.51,168.86 583.41,171.84 586.30,172.53 589.19,174.60 592.09,172.53 594.98,177.58 597.88,171.84 600.77,171.38 603.66,172.53 606.56,170.92 609.45,170.46 612.34,170.46 615.24,171.38 618.13,175.97 621.02,172.99 623.92,176.66 626.81,175.51 629.70,172.53 632.60,177.12 635.49,169.32 638.38,170.46 641.28,171.38 644.17,170.46 647.07,175.51 649.96,170.92 652.85,168.86 655.75,172.53 658.64,171.84 661.53,171.84 664.43,171.84 667.32,177.58 670.21,168.86 673.11,168.40" stroke="#ff7f0e"/>
<polyline points="386.65,229.68 389.54,229.68 392.44,222.79 395.33,215.22 398.22,220.04 401.12,213.15 404.01,214.07 406.90,212.46 409.80,208.33 412.69,204.89 415.58,203.51 418.48,200.07 421.37,201.22 424.27,199.84 427.16,197.77 430.05,200.07 432.95,196.17 435.84,198.23 438.73,202.82 441.63,191.58 444.52,195.02 447.41,193.87 450.31,191.81 453.20,197.09 456.09,189.28 458.99,190.43 461.88,190.43 464.77,186.76 467.67,191.81 470.56,191.35 473.45,188.37 476.35,185.15 479.24,188.37 482.14,187.22 485.03,185.15 487.92,187.22 490.82,189.97 493.71,184.69 496.60,186.76 499.50,185.84 502.39,185.84 505.28,183.32 508.18,184.23 511.07,188.37 513.96,188.37 516.86,185.15 519.75,187.22 522.64,185.84 525.54,205.35 528.43,186.30 531.33,185.15 534.22,190.89 537.11,185.84 540.01,185.84 542.90,184.23 545.79,183.32 548.69,185.15 551.58,191.35 554.47,183.32 557.37,185.15 560.26,187.22 563.15,189.97 566.05,184.23 568.94,182.63 571.83,186.30 574.73,187.91 577.62,183.78 580.51,185.15 583.41,191.81 586.30,186.30 589.19,187.91 592.09,183.78 594.98,184.23 597.88,185.15 600.77,185.15 603.66,186.30 606.56,186.30 609.45,184.69 612.34,182.17 615.24,185.15 618.13,184.23 621.02,185.84 623.92,189.97 626.81,184.69 629.70,185.84 632.60,185.61 635.49,182.63 638.38,183.78 641.28,184.23 644.17,191.81 647.07,186.76 649.96,184.69 652.85,183.78 655.75,183.32 658.64,183.78 661.53,183.32 664.43,182.63 667.32,183.32 670.21,183.32 673.11,189.97" stroke="#2ca02c"/>
</g>
<line x1="386.65" x2="386.65" y1="232.2" y2="235.6" stroke="#000" stroke-width="1"/>
<text x="386.65" y="246.60" font-size="9.7" text-anchor="middle" fill="#000" stroke="#000" stroke-width="0.25">0</text>
<line x1="444.52" x2="444.52" y1="232.2" y2="235.6" stroke="#000" stroke-width="1"/>
<text x="444.52" y="246.60" font-size="9.7" text-anchor="middle" fill="#000" stroke="#000" stroke-width="0.25">20</text>
<line x1="502.39" x2="502.39" y1="232.2" y2="235.6" stroke="#000" stroke-width="1"/>
<text x="502.39" y="246.60" font-size="9.7" text-anchor="middle" fill="#000" stroke="#000" stroke-width="0.25">40</text>
<line x1="560.26" x2="560.26" y1="232.2" y2="235.6" stroke="#000" stroke-width="1"/>
<text x="560.26" y="246.60" font-size="9.7" text-anchor="middle" fill="#000" stroke="#000" stroke-width="0.25">60</text>
<line x1="618.13" x2="618.13" y1="232.2" y2="235.6" stroke="#000" stroke-width="1"/>
<text x="618.13" y="246.60" font-size="9.7" text-anchor="middle" fill="#000" stroke="#000" stroke-width="0.25">80</text>
<line x1="676.00" x2="676.00" y1="232.2" y2="235.6" stroke="#000" stroke-width="1"/>
<text x="676.00" y="246.60" font-size="9.7" text-anchor="middle" fill="#000" stroke="#000" stroke-width="0.25">100</text>
<line x1="383.25" x2="386.65" y1="232.20" y2="232.20" stroke="#000" stroke-width="1"/>
<text x="380.25" y="235.80" font-size="9.7" text-anchor="end" fill="#000" stroke="#000" stroke-width="0.25">40</text>
<line x1="383.25" x2="386.65" y1="209.25" y2="209.25" stroke="#000" stroke-width="1"/>
<text x="380.25" y="212.85" font-size="9.7" text-anchor="end" fill="#000" stroke="#000" stroke-width="0.25">50</text>
<line x1="383.25" x2="386.65" y1="186.30" y2="186.30" stroke="#000" stroke-width="1"/>
<text x="380.25" y="189.90" font-size="9.7" text-anchor="end" fill="#000" stroke="#000" stroke-width="0.25">60</text>
<line x1="383.25" x2="386.65" y1="163.35" y2="163.35" stroke="#000" stroke-width="1"/>
<text x="380.25" y="166.95" font-size="9.7" text-anchor="end" fill="#000" stroke="#000" stroke-width="0.25">70</text>
<line x1="383.25" x2="386.65" y1="140.40" y2="140.40" stroke="#000" stroke-width="1"/>
<text x="380.25" y="144.00" font-size="9.7" text-anchor="end" fill="#000" stroke="#000" stroke-width="0.25">80</text>
<rect x="386.65" y="140.4" width="289.35" height="91.80" fill="none" stroke="#000" stroke-width="1"/>
<text transform="translate(362.35,185.10) rotate(-90)" font-size="11.9" text-anchor="middle" fill="#000" stroke="#000" stroke-width="0.25">Test acc</text>
<clipPath id="c7"><rect x="386.65" y="250.4" width="289.35" height="91.80"/></clipPath>
<g clip-path="url(#c7)" fill="none" stroke-width="1.8" stroke-linejoin="round" stroke-linecap="square">
<polyline points="386.65,330.79 389.54,326.66 392.44,325.15 395.33,324.82 398.22,324.10 401.12,321.87 404.01,322.07 406.90,321.28 409.80,320.56 412.69,320.36 415.58,321.55 418.48,320.56 421.37,318.73 424.27,319.18 427.16,317.74 430.05,318.46 432.95,316.43 435.84,315.91 438.73,315.38 441.63,316.43 444.52,313.35 447.41,315.32 450.31,312.30 453.20,314.59 456.09,312.69 458.99,312.89 461.88,312.69 464.77,311.18 467.67,308.63 470.56,310.66 473.45,307.58 476.35,307.05 479.24,307.58 482.14,304.82 485.03,304.30 487.92,302.46 490.82,301.94 493.71,300.89 496.60,297.81 499.50,302.99 502.39,300.43 505.28,301.41 508.18,300.89 511.07,298.66 513.96,298.73 516.86,300.56 519.75,298.14 522.64,297.15 525.54,292.50 528.43,293.02 531.33,286.40 534.22,290.46 537.11,286.40 540.01,287.38 542.90,289.94 545.79,286.92 548.69,285.35 551.58,285.02 554.47,284.82 557.37,286.40 560.26,282.27 563.15,281.28 566.05,282.79 568.94,274.60 571.83,281.74 574.73,283.19 577.62,273.68 580.51,280.89 583.41,279.51 586.30,277.48 589.19,275.97 592.09,271.84 594.98,276.96 597.88,274.92 600.77,275.97 603.66,274.92 606.56,274.40 609.45,273.42 612.34,267.71 615.24,268.76 618.13,271.84 621.02,268.76 623.92,272.37 626.81,263.06 629.70,262.79 632.60,265.42 635.49,255.71 638.38,262.53 641.28,261.42 644.17,262.79 647.07,259.06 649.96,266.92 652.85,266.47 655.75,262.53 658.64,252.89 661.53,266.07 664.43,262.07 667.32,262.53 670.21,259.91 673.11,254.20" stroke="#1f77b4"/>
<polyline points="386.65,333.35 389.54,330.79 392.44,328.56 395.33,327.71 398.22,326.66 401.12,325.48 404.01,325.15 406.90,324.63 409.80,325.15 412.69,323.84 415.58,324.43 418.48,323.38 421.37,322.59 424.27,321.87 427.16,321.55 430.05,322.07 432.95,320.04 435.84,318.46 438.73,317.48 441.63,318.46 444.52,318.00 447.41,315.84 450.31,317.61 453.20,317.68 456.09,315.77 458.99,315.25 461.88,314.73 464.77,314.73 467.67,313.74 470.56,310.14 473.45,311.18 476.35,311.71 479.24,310.66 482.14,310.14 485.03,307.58 487.92,310.66 490.82,308.10 493.71,307.05 496.60,305.02 499.50,304.50 502.39,303.97 505.28,297.81 508.18,301.94 511.07,302.07 513.96,298.46 516.86,296.37 519.75,300.23 522.64,303.32 525.54,294.60 528.43,294.07 531.33,296.10 534.22,293.02 537.11,284.82 540.01,297.68 542.90,292.04 545.79,290.99 548.69,287.38 551.58,289.94 554.47,284.82 557.37,288.96 560.26,281.74 563.15,292.04 566.05,280.76 568.94,288.43 571.83,279.19 574.73,280.37 577.62,281.68 580.51,279.38 583.41,282.60 586.30,279.51 589.19,282.60 592.09,282.07 594.98,273.87 597.88,284.63 600.77,279.51 603.66,281.09 606.56,282.60 609.45,284.17 612.34,280.56 615.24,280.56 618.13,277.48 621.02,278.01 623.92,274.40 626.81,276.50 629.70,282.66 632.60,264.76 635.49,272.30 638.38,273.94 641.28,272.04 644.17,264.96 647.07,275.71 649.96,266.07 652.85,260.37 655.75,268.69 658.64,263.45 661.53,269.15 664.43,266.92 667.32,273.55 670.21,266.07 673.11,260.37" stroke="#ff7f0e"/>
<polyline points="386.65,332.82 389.54,329.28 392.44,328.23 395.33,327.71 398.22,326.46 401.12,326.00 404.01,325.87 406.90,325.48 409.80,325.87 412.69,324.10 415.58,324.63 418.48,323.38 421.37,322.92 424.27,322.07 427.16,321.74 430.05,321.35 432.95,320.56 435.84,319.32 438.73,320.04 441.63,320.04 444.52,319.51 447.41,317.15 450.31,318.20 453.20,317.15 456.09,317.02 458.99,316.63 461.88,315.77 464.77,313.22 467.67,311.71 470.56,314.27 473.45,312.69 476.35,312.69 479.24,312.50 482.14,310.66 485.03,309.61 487.92,309.81 490.82,308.10 493.71,308.63 496.60,306.79 499.50,306.79 502.39,305.55 505.28,305.55 508.18,304.50 511.07,305.09 513.96,299.32 516.86,302.14 519.75,301.22 522.64,303.32 525.54,300.76 528.43,300.23 531.33,300.76 534.22,301.74 537.11,298.66 540.01,298.14 542.90,294.60 545.79,296.63 548.69,297.15 551.58,296.63 554.47,298.14 557.37,293.55 560.26,292.04 563.15,297.68 566.05,287.38 568.94,290.99 571.83,286.92 574.73,286.33 577.62,282.73 580.51,284.50 583.41,289.28 586.30,291.32 589.19,291.32 592.09,284.63 594.98,283.64 597.88,282.60 600.77,284.17 603.66,282.60 606.56,280.04 609.45,284.63 612.34,277.48 615.24,281.61 618.13,280.04 621.02,280.04 623.92,268.76 626.81,269.68 629.70,273.74 632.60,278.66 635.49,277.48 638.38,282.92 641.28,272.76 644.17,276.76 647.07,270.46 649.96,277.02 652.85,275.32 655.75,271.78 658.64,274.40 661.53,275.71 664.43,266.92 667.32,266.47 670.21,265.61 673.11,271.78" stroke="#2ca02c"/>
</g>
<line x1="386.65" x2="386.65" y1="342.2" y2="345.59999999999997" stroke="#000" stroke-width="1"/>
<text x="386.65" y="356.60" font-size="9.7" text-anchor="middle" fill="#000" stroke="#000" stroke-width="0.25">0</text>
<line x1="444.52" x2="444.52" y1="342.2" y2="345.59999999999997" stroke="#000" stroke-width="1"/>
<text x="444.52" y="356.60" font-size="9.7" text-anchor="middle" fill="#000" stroke="#000" stroke-width="0.25">20</text>
<line x1="502.39" x2="502.39" y1="342.2" y2="345.59999999999997" stroke="#000" stroke-width="1"/>
<text x="502.39" y="356.60" font-size="9.7" text-anchor="middle" fill="#000" stroke="#000" stroke-width="0.25">40</text>
<line x1="560.26" x2="560.26" y1="342.2" y2="345.59999999999997" stroke="#000" stroke-width="1"/>
<text x="560.26" y="356.60" font-size="9.7" text-anchor="middle" fill="#000" stroke="#000" stroke-width="0.25">60</text>
<line x1="618.13" x2="618.13" y1="342.2" y2="345.59999999999997" stroke="#000" stroke-width="1"/>
<text x="618.13" y="356.60" font-size="9.7" text-anchor="middle" fill="#000" stroke="#000" stroke-width="0.25">80</text>
<line x1="676.00" x2="676.00" y1="342.2" y2="345.59999999999997" stroke="#000" stroke-width="1"/>
<text x="676.00" y="356.60" font-size="9.7" text-anchor="middle" fill="#000" stroke="#000" stroke-width="0.25">100</text>
<line x1="383.25" x2="386.65" y1="342.20" y2="342.20" stroke="#000" stroke-width="1"/>
<text x="380.25" y="345.80" font-size="9.7" text-anchor="end" fill="#000" stroke="#000" stroke-width="0.25">0</text>
<line x1="383.25" x2="386.65" y1="309.41" y2="309.41" stroke="#000" stroke-width="1"/>
<text x="380.25" y="313.01" font-size="9.7" text-anchor="end" fill="#000" stroke="#000" stroke-width="0.25">50</text>
<line x1="383.25" x2="386.65" y1="276.63" y2="276.63" stroke="#000" stroke-width="1"/>
<text x="380.25" y="280.23" font-size="9.7" text-anchor="end" fill="#000" stroke="#000" stroke-width="0.25">100</text>
<rect x="386.65" y="250.4" width="289.35" height="91.80" fill="none" stroke="#000" stroke-width="1"/>
<text transform="translate(356.65,295.60) rotate(-90)" font-size="11.15" text-anchor="middle" fill="#000" stroke="#000" stroke-width="0.25">Signal Learning</text>
<clipPath id="c8"><rect x="386.65" y="360.4" width="289.35" height="91.60"/></clipPath>
<g clip-path="url(#c8)" fill="none" stroke-width="1.8" stroke-linejoin="round" stroke-linecap="square">
<polyline points="386.65,451.63 389.54,446.50 392.44,445.04 395.33,444.31 398.22,444.67 401.12,444.86 404.01,444.31 406.90,442.84 409.80,442.29 412.69,443.39 415.58,440.64 418.48,444.12 421.37,442.84 424.27,443.39 427.16,443.02 430.05,441.74 432.95,440.82 435.84,444.31 438.73,441.74 441.63,441.92 444.52,440.64 447.41,440.64 450.31,442.66 453.20,441.19 456.09,440.09 458.99,438.81 461.88,437.71 464.77,439.54 467.67,439.54 470.56,436.79 473.45,437.89 476.35,439.18 479.24,439.54 482.14,437.16 485.03,436.79 487.92,436.61 490.82,436.43 493.71,435.33 496.60,430.93 499.50,436.98 502.39,432.40 505.28,430.93 508.18,432.40 511.07,433.50 513.96,431.12 516.86,430.38 519.75,432.58 522.64,431.48 525.54,432.58 528.43,430.57 531.33,435.70 534.22,428.00 537.11,429.10 540.01,426.90 542.90,432.21 545.79,426.72 548.69,432.58 551.58,433.13 554.47,429.83 557.37,428.92 560.26,430.02 563.15,423.24 566.05,421.59 568.94,425.07 571.83,423.60 574.73,424.52 577.62,427.82 580.51,425.44 583.41,424.15 586.30,423.05 589.19,419.94 592.09,422.69 594.98,425.44 597.88,417.56 600.77,420.67 603.66,419.94 606.56,428.00 609.45,419.02 612.34,424.70 615.24,423.60 618.13,421.59 621.02,425.25 623.92,420.67 626.81,419.94 629.70,421.59 632.60,417.56 635.49,423.05 638.38,413.53 641.28,421.59 644.17,413.53 647.07,422.32 649.96,423.97 652.85,410.96 655.75,421.96 658.64,418.84 661.53,419.94 664.43,420.67 667.32,418.84 670.21,417.74 673.11,413.89" stroke="#1f77b4"/>
<polyline points="386.65,451.63 389.54,444.31 392.44,441.74 395.33,441.56 398.22,440.82 401.12,439.91 404.01,438.99 406.90,439.91 409.80,437.53 412.69,436.79 415.58,437.53 418.48,436.24 421.37,436.24 424.27,435.70 427.16,437.16 430.05,434.41 432.95,433.68 435.84,434.78 438.73,432.03 441.63,432.58 444.52,433.13 447.41,431.66 450.31,430.02 453.20,431.48 456.09,430.75 458.99,427.63 461.88,429.28 464.77,430.20 467.67,426.72 470.56,427.27 473.45,430.20 476.35,428.18 479.24,424.70 482.14,425.07 485.03,426.17 487.92,426.54 490.82,424.70 493.71,424.15 496.60,422.14 499.50,425.07 502.39,422.69 505.28,421.77 508.18,422.14 511.07,420.12 513.96,417.56 516.86,420.12 519.75,419.21 522.64,417.74 525.54,416.46 528.43,418.66 531.33,419.21 534.22,415.18 537.11,418.11 540.01,417.19 542.90,416.46 545.79,415.54 548.69,413.53 551.58,414.44 554.47,414.81 557.37,408.95 560.26,412.43 563.15,415.18 566.05,409.50 568.94,413.53 571.83,407.48 574.73,402.90 577.62,404.37 580.51,404.00 583.41,406.75 586.30,408.58 589.19,408.03 592.09,397.59 594.98,399.06 597.88,403.64 600.77,403.09 603.66,400.34 606.56,405.28 609.45,400.52 612.34,399.60 615.24,385.50 618.13,403.45 621.02,395.94 623.92,399.06 626.81,391.54 629.70,397.41 632.60,396.31 635.49,394.29 638.38,401.25 641.28,383.67 644.17,391.54 647.07,390.26 649.96,387.88 652.85,385.68 655.75,392.09 658.64,386.41 661.53,389.35 664.43,387.15 667.32,383.67 670.21,388.98 673.11,382.93" stroke="#ff7f0e"/>
<polyline points="386.65,451.63 389.54,443.94 392.44,442.29 395.33,441.37 398.22,439.91 401.12,438.81 404.01,437.89 406.90,438.26 409.80,436.24 412.69,436.61 415.58,437.16 418.48,435.51 421.37,434.41 424.27,434.60 427.16,435.15 430.05,434.05 432.95,434.78 435.84,435.15 438.73,433.31 441.63,431.30 444.52,433.86 447.41,430.93 450.31,433.31 453.20,432.21 456.09,429.10 458.99,431.85 461.88,429.28 464.77,430.75 467.67,428.18 470.56,428.18 473.45,427.27 476.35,428.73 479.24,425.62 482.14,427.27 485.03,424.70 487.92,421.41 490.82,426.17 493.71,422.69 496.60,423.60 499.50,416.46 502.39,416.64 505.28,422.14 508.18,420.12 511.07,417.92 513.96,419.02 516.86,421.96 519.75,417.74 522.64,415.18 525.54,414.08 528.43,414.08 531.33,416.09 534.22,419.76 537.11,414.08 540.01,408.58 542.90,410.60 545.79,412.06 548.69,414.08 551.58,408.03 554.47,409.50 557.37,405.83 560.26,412.80 563.15,411.70 566.05,402.54 568.94,402.17 571.83,406.93 574.73,406.57 577.62,407.12 580.51,403.45 583.41,403.64 586.30,400.15 589.19,399.60 592.09,400.15 594.98,395.94 597.88,400.52 600.77,391.36 603.66,399.60 606.56,400.15 609.45,405.28 612.34,394.48 615.24,396.67 618.13,393.56 621.02,396.31 623.92,389.90 626.81,393.56 629.70,391.36 632.60,394.66 635.49,393.01 638.38,393.01 641.28,385.13 644.17,394.29 647.07,393.38 649.96,391.54 652.85,391.91 655.75,390.81 658.64,393.74 661.53,386.41 664.43,372.31 667.32,379.82 670.21,385.13 673.11,376.70" stroke="#2ca02c"/>
</g>
<line x1="386.65" x2="386.65" y1="452.0" y2="455.4" stroke="#000" stroke-width="1"/>
<text x="386.65" y="466.40" font-size="9.7" text-anchor="middle" fill="#000" stroke="#000" stroke-width="0.25">0</text>
<line x1="444.52" x2="444.52" y1="452.0" y2="455.4" stroke="#000" stroke-width="1"/>
<text x="444.52" y="466.40" font-size="9.7" text-anchor="middle" fill="#000" stroke="#000" stroke-width="0.25">20</text>
<line x1="502.39" x2="502.39" y1="452.0" y2="455.4" stroke="#000" stroke-width="1"/>
<text x="502.39" y="466.40" font-size="9.7" text-anchor="middle" fill="#000" stroke="#000" stroke-width="0.25">40</text>
<line x1="560.26" x2="560.26" y1="452.0" y2="455.4" stroke="#000" stroke-width="1"/>
<text x="560.26" y="466.40" font-size="9.7" text-anchor="middle" fill="#000" stroke="#000" stroke-width="0.25">60</text>
<line x1="618.13" x2="618.13" y1="452.0" y2="455.4" stroke="#000" stroke-width="1"/>
<text x="618.13" y="466.40" font-size="9.7" text-anchor="middle" fill="#000" stroke="#000" stroke-width="0.25">80</text>
<line x1="676.00" x2="676.00" y1="452.0" y2="455.4" stroke="#000" stroke-width="1"/>
<text x="676.00" y="466.40" font-size="9.7" text-anchor="middle" fill="#000" stroke="#000" stroke-width="0.25">100</text>
<line x1="383.25" x2="386.65" y1="433.68" y2="433.68" stroke="#000" stroke-width="1"/>
<text x="380.25" y="437.28" font-size="9.7" text-anchor="end" fill="#000" stroke="#000" stroke-width="0.25">20</text>
<line x1="383.25" x2="386.65" y1="397.04" y2="397.04" stroke="#000" stroke-width="1"/>
<text x="380.25" y="400.64" font-size="9.7" text-anchor="end" fill="#000" stroke="#000" stroke-width="0.25">40</text>
<line x1="383.25" x2="386.65" y1="360.40" y2="360.40" stroke="#000" stroke-width="1"/>
<text x="380.25" y="364.00" font-size="9.7" text-anchor="end" fill="#000" stroke="#000" stroke-width="0.25">60</text>
<rect x="386.65" y="360.4" width="289.35" height="91.60" fill="none" stroke="#000" stroke-width="1"/>
<text transform="translate(361.75,405.90) rotate(-90)" font-size="11.4" text-anchor="middle" fill="#000" stroke="#000" stroke-width="0.25">Noise Memorization</text>
<text x="531.33" y="481.8" font-size="13.15" text-anchor="middle" fill="#000" stroke="#000" stroke-width="0.25">Iterations</text>
<rect x="206.3" y="0.5" width="301.8" height="25.5" rx="2.6" fill="#fff" fill-opacity="0.8" stroke="#ccc" stroke-width="1"/>
<line x1="210.3" x2="238.6" y1="11.8" y2="11.8" stroke="#1f77b4" stroke-width="1.8"/>
<text x="248.7" y="16.2" font-size="13" font-style="italic" fill="#000" stroke="#000" stroke-width="0.25">σ</text>
<text x="256.4" y="18.9" font-size="9.3" font-style="italic" fill="#000" stroke="#000" stroke-width="0.25">p</text>
<text x="265.4" y="16.2" font-size="13" fill="#000" stroke="#000" stroke-width="0.25">=</text>
<text x="279.3" y="16.2" font-size="13" fill="#000" stroke="#000" stroke-width="0.25">0</text>
<line x1="314.1" x2="342.4" y1="11.8" y2="11.8" stroke="#ff7f0e" stroke-width="1.8"/>
<text x="352.5" y="16.2" font-size="13" font-style="italic" fill="#000" stroke="#000" stroke-width="0.25">σ</text>
<text x="360.2" y="18.9" font-size="9.3" font-style="italic" fill="#000" stroke="#000" stroke-width="0.25">p</text>
<text x="369.2" y="16.2" font-size="13" fill="#000" stroke="#000" stroke-width="0.25">=</text>
<text x="383.1" y="16.2" font-size="13" fill="#000" stroke="#000" stroke-width="0.25">5</text>
<line x1="417.9" x2="446.2" y1="11.8" y2="11.8" stroke="#2ca02c" stroke-width="1.8"/>
<text x="456.3" y="16.2" font-size="13" font-style="italic" fill="#000" stroke="#000" stroke-width="0.25">σ</text>
<text x="464.0" y="18.9" font-size="9.3" font-style="italic" fill="#000" stroke="#000" stroke-width="0.25">p</text>
<text x="473.0" y="16.2" font-size="13" fill="#000" stroke="#000" stroke-width="0.25">=</text>
<text x="486.9" y="16.2" font-size="13" fill="#000" stroke="#000" stroke-width="0.25">15</text>
</svg>
</body></html>
